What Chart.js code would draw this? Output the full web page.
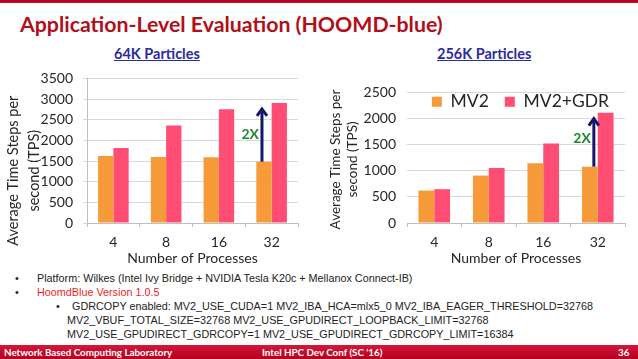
<!DOCTYPE html>
<html>
<head>
<meta charset="utf-8">
<script src="https://cdn.jsdelivr.net/npm/chart.js@4.4.0/dist/chart.umd.min.js"></script>
<style>
  html, body { margin: 0; padding: 0; background: #fff; }
  #slide { position: relative; width: 638px; height: 359px; overflow: hidden; background: #fff; font-family: Lato, sans-serif; }
  .topbar { position: absolute; left: 0; top: 0; width: 638px; height: 3px; background: linear-gradient(#a8001a, #d0102c); }
  h1 { position: absolute; left: 20px; top: 11px; margin: 0; font: bold 21.3px Lato, sans-serif; color: #B0101A; white-space: nowrap; }
  .sub { position: absolute; top: 45px; font: bold 14.5px Lato, sans-serif; color: #2B2B9E; text-decoration: underline; white-space: nowrap; }
  .box { position: absolute; }
  .bul { position: absolute; font: 10.8px "Liberation Sans", Arial, sans-serif; color: #222; white-space: nowrap; }
  .red { color: #E8262B; }
  .footer { position: absolute; left: 0; top: 345px; width: 638px; height: 14px; background: linear-gradient(#d4173a, #b5001f); }
  .footer span { position: absolute; top: 1px; font: bold 9.8px Lato, sans-serif; color: #fff; white-space: nowrap; }
</style>
</head>
<body>
<div id="slide">
  <div class="topbar"></div>
  <h1>Application-Level Evaluation (HOOMD-blue)</h1>
  <div class="sub" style="left:114px">64K Particles</div>
  <div class="sub" style="left:437px">256K Particles</div>

  <div class="box" style="left:0;top:60px;width:310px;height:210px"><canvas id="c64" width="310" height="210"></canvas></div>
  <div class="box" style="left:320px;top:60px;width:318px;height:210px"><canvas id="c256" width="318" height="210"></canvas></div>

  <div class="bul" style="left:15px;top:272px">•</div>
  <div class="bul" style="left:37px;top:272px">Platform: Wilkes (Intel Ivy Bridge + NVIDIA Tesla K20c + Mellanox Connect-IB)</div>
  <div class="bul" style="left:15px;top:286px">•</div>
  <div class="bul red" style="left:37px;top:286px">HoomdBlue Version 1.0.5</div>
  <div class="bul" style="left:56px;top:300px">•</div>
  <div class="bul" style="left:72px;top:300px">GDRCOPY enabled: MV2_USE_CUDA=1 MV2_IBA_HCA=mlx5_0 MV2_IBA_EAGER_THRESHOLD=32768</div>
  <div class="bul" style="left:67px;top:314px">MV2_VBUF_TOTAL_SIZE=32768 MV2_USE_GPUDIRECT_LOOPBACK_LIMIT=32768</div>
  <div class="bul" style="left:67px;top:328px">MV2_USE_GPUDIRECT_GDRCOPY=1 MV2_USE_GPUDIRECT_GDRCOPY_LIMIT=16384</div>

  <div class="footer">
    <span style="left:4px">Network Based Computing Laboratory</span>
    <span style="left:262px">Intel HPC Dev Conf (SC '16)</span>
    <span style="left:618px">36</span>
  </div>
</div>

<script>
// values (TPS)
const categories = ['4', '8', '16', '32'];
const seriesNames = ['MV2', 'MV2+GDR'];
const mv2Small = [1620, 1600, 1590, 1485];
const gdrSmall = [1815, 2360, 2755, 2905];
const mv2Large = [620, 905, 1140, 1075];
const gdrLarge = [645, 1050, 1515, 2105];
const yMaxSmall = 3500;
const yMaxLarge = 2500;
const yStep = 500;
const yTitleLines = ['Average Time Steps per', 'second (TPS)'];
const xTitle = 'Number of Processes';
const speedupText = '2X';

const ORANGE = '#F79A3A';
const PINK = '#FF4D73';
const TEXT = '#262626';

// rotated two-line y title, drawn relative to the plot area
const yTitlePlugin = {
  id: 'yTitle',
  afterDraw(chart, args, o) {
    const ctx = chart.ctx;
    const area = chart.chartArea;
    ctx.save();
    ctx.font = o.size + 'px Lato';
    ctx.fillStyle = TEXT;
    ctx.textAlign = 'center';
    ctx.textBaseline = 'middle';
    ctx.translate(o.x, (area.top + area.bottom) / 2 + o.shift);
    ctx.rotate(-Math.PI / 2);
    o.lines.forEach((t, i) => ctx.fillText(t, 0, i * o.lineHeight));
    ctx.restore();
  }
};

// "2X" arrow from the MV2 bar up to the MV2+GDR bar
const speedupPlugin = {
  id: 'speedup',
  afterDatasetsDraw(chart, args, o) {
    const ctx = chart.ctx;
    const base = chart.getDatasetMeta(0).data[o.index];
    const top = chart.getDatasetMeta(1).data[o.index];
    const x = base.x + o.dx;
    const y0 = base.y;
    const y1 = top.y + 5;
    ctx.save();
    ctx.strokeStyle = '#15166B';
    ctx.lineWidth = 3;
    ctx.beginPath();
    ctx.moveTo(x, y0);
    ctx.lineTo(x, y1 + 2);
    ctx.stroke();
    ctx.beginPath();
    ctx.moveTo(x - 5, y1 + 8);
    ctx.lineTo(x, y1 + 1);
    ctx.lineTo(x + 5, y1 + 8);
    ctx.stroke();
    ctx.fillStyle = '#1E8A2C';
    ctx.font = 'bold 14px Lato';
    ctx.textAlign = 'right';
    ctx.textBaseline = 'middle';
    ctx.fillText(speedupText, x - 3, (y0 + y1) / 2 + o.dy);
    ctx.restore();
  }
};

// the legend takes no room in the layout (maxHeight ~0); move it inside the plot
const legendInside = {
  id: 'legendInside',
  afterLayout(chart, args, o) {
    const lg = chart.legend;
    if (!lg || !o.on) return;
    lg.top = chart.chartArea.top + o.dy;
    lg.height = o.h;
    lg.bottom = lg.top + o.h;
  }
};

function makeChart(id, mv2, gdr, yMax, cfg) {
  return new Chart(document.getElementById(id), {
    type: 'bar',
    data: {
      labels: categories,
      datasets: [
        { label: seriesNames[0], data: mv2, backgroundColor: ORANGE, borderWidth: 0 },
        { label: seriesNames[1], data: gdr, backgroundColor: PINK, borderWidth: 0 }
      ]
    },
    options: {
      responsive: false,
      animation: false,
      layout: { padding: { top: cfg.padTop, right: cfg.padRight, left: 0, bottom: 0 } },
      datasets: { bar: { categoryPercentage: 0.58, barPercentage: 1 } },
      plugins: {
        tooltip: { enabled: false },
        legend: cfg.legend ? {
          position: 'top',
          align: 'end',
          maxHeight: 0.001,
          labels: { boxWidth: 10, boxHeight: 10, padding: 16, color: TEXT, font: { family: 'Lato', size: 17.5 } }
        } : { display: false },
        legendInside: { on: cfg.legend, dy: -15, h: 50 },
        yTitle: { lines: yTitleLines, x: cfg.titleX, shift: cfg.titleShift, size: cfg.titleSize, lineHeight: cfg.titleGap },
        speedup: { index: 3, dx: cfg.arrowDx, dy: cfg.textDy }
      },
      scales: {
        x: {
          grid: { offset: true, drawOnChartArea: false, drawTicks: true, tickLength: 4, color: '#BFBFBF' },
          border: { color: '#BFBFBF' },
          ticks: { color: TEXT, font: { family: 'Lato', size: 14 }, padding: 7, maxRotation: 0 },
          title: { display: true, text: xTitle, color: TEXT, font: { family: 'Lato', size: 14 }, padding: { top: 0, bottom: 3 } },
          afterFit(s) { s.height = 47; }
        },
        y: {
          min: 0,
          max: yMax,
          ticks: { stepSize: yStep, color: TEXT, font: { family: 'Lato', size: 14 }, padding: cfg.tickPad, callback: v => String(v) },
          grid: { color: '#D9D9D9', drawTicks: cfg.yTicks, tickLength: 4 },
          border: { display: cfg.yBorder, color: '#BFBFBF' },
          afterFit(s) { s.width = 87; }
        }
      }
    },
    plugins: [yTitlePlugin, speedupPlugin, legendInside]
  });
}

makeChart('c64', mv2Small, gdrSmall, yMaxSmall, {
  padTop: 15, padRight: 12, legend: false, yTicks: true, yBorder: true, tickPad: 10,
  titleX: 13, titleShift: 20, titleSize: 14.5, titleGap: 21, arrowDx: -2, textDy: 0
});
makeChart('c256', mv2Large, gdrLarge, yMaxLarge, {
  padTop: 32, padRight: 13, legend: true, yTicks: false, yBorder: false, tickPad: 11,
  titleX: 16, titleShift: 2, titleSize: 13.5, titleGap: 17, arrowDx: 4, textDy: -4
});
</script>
</body>
</html>
